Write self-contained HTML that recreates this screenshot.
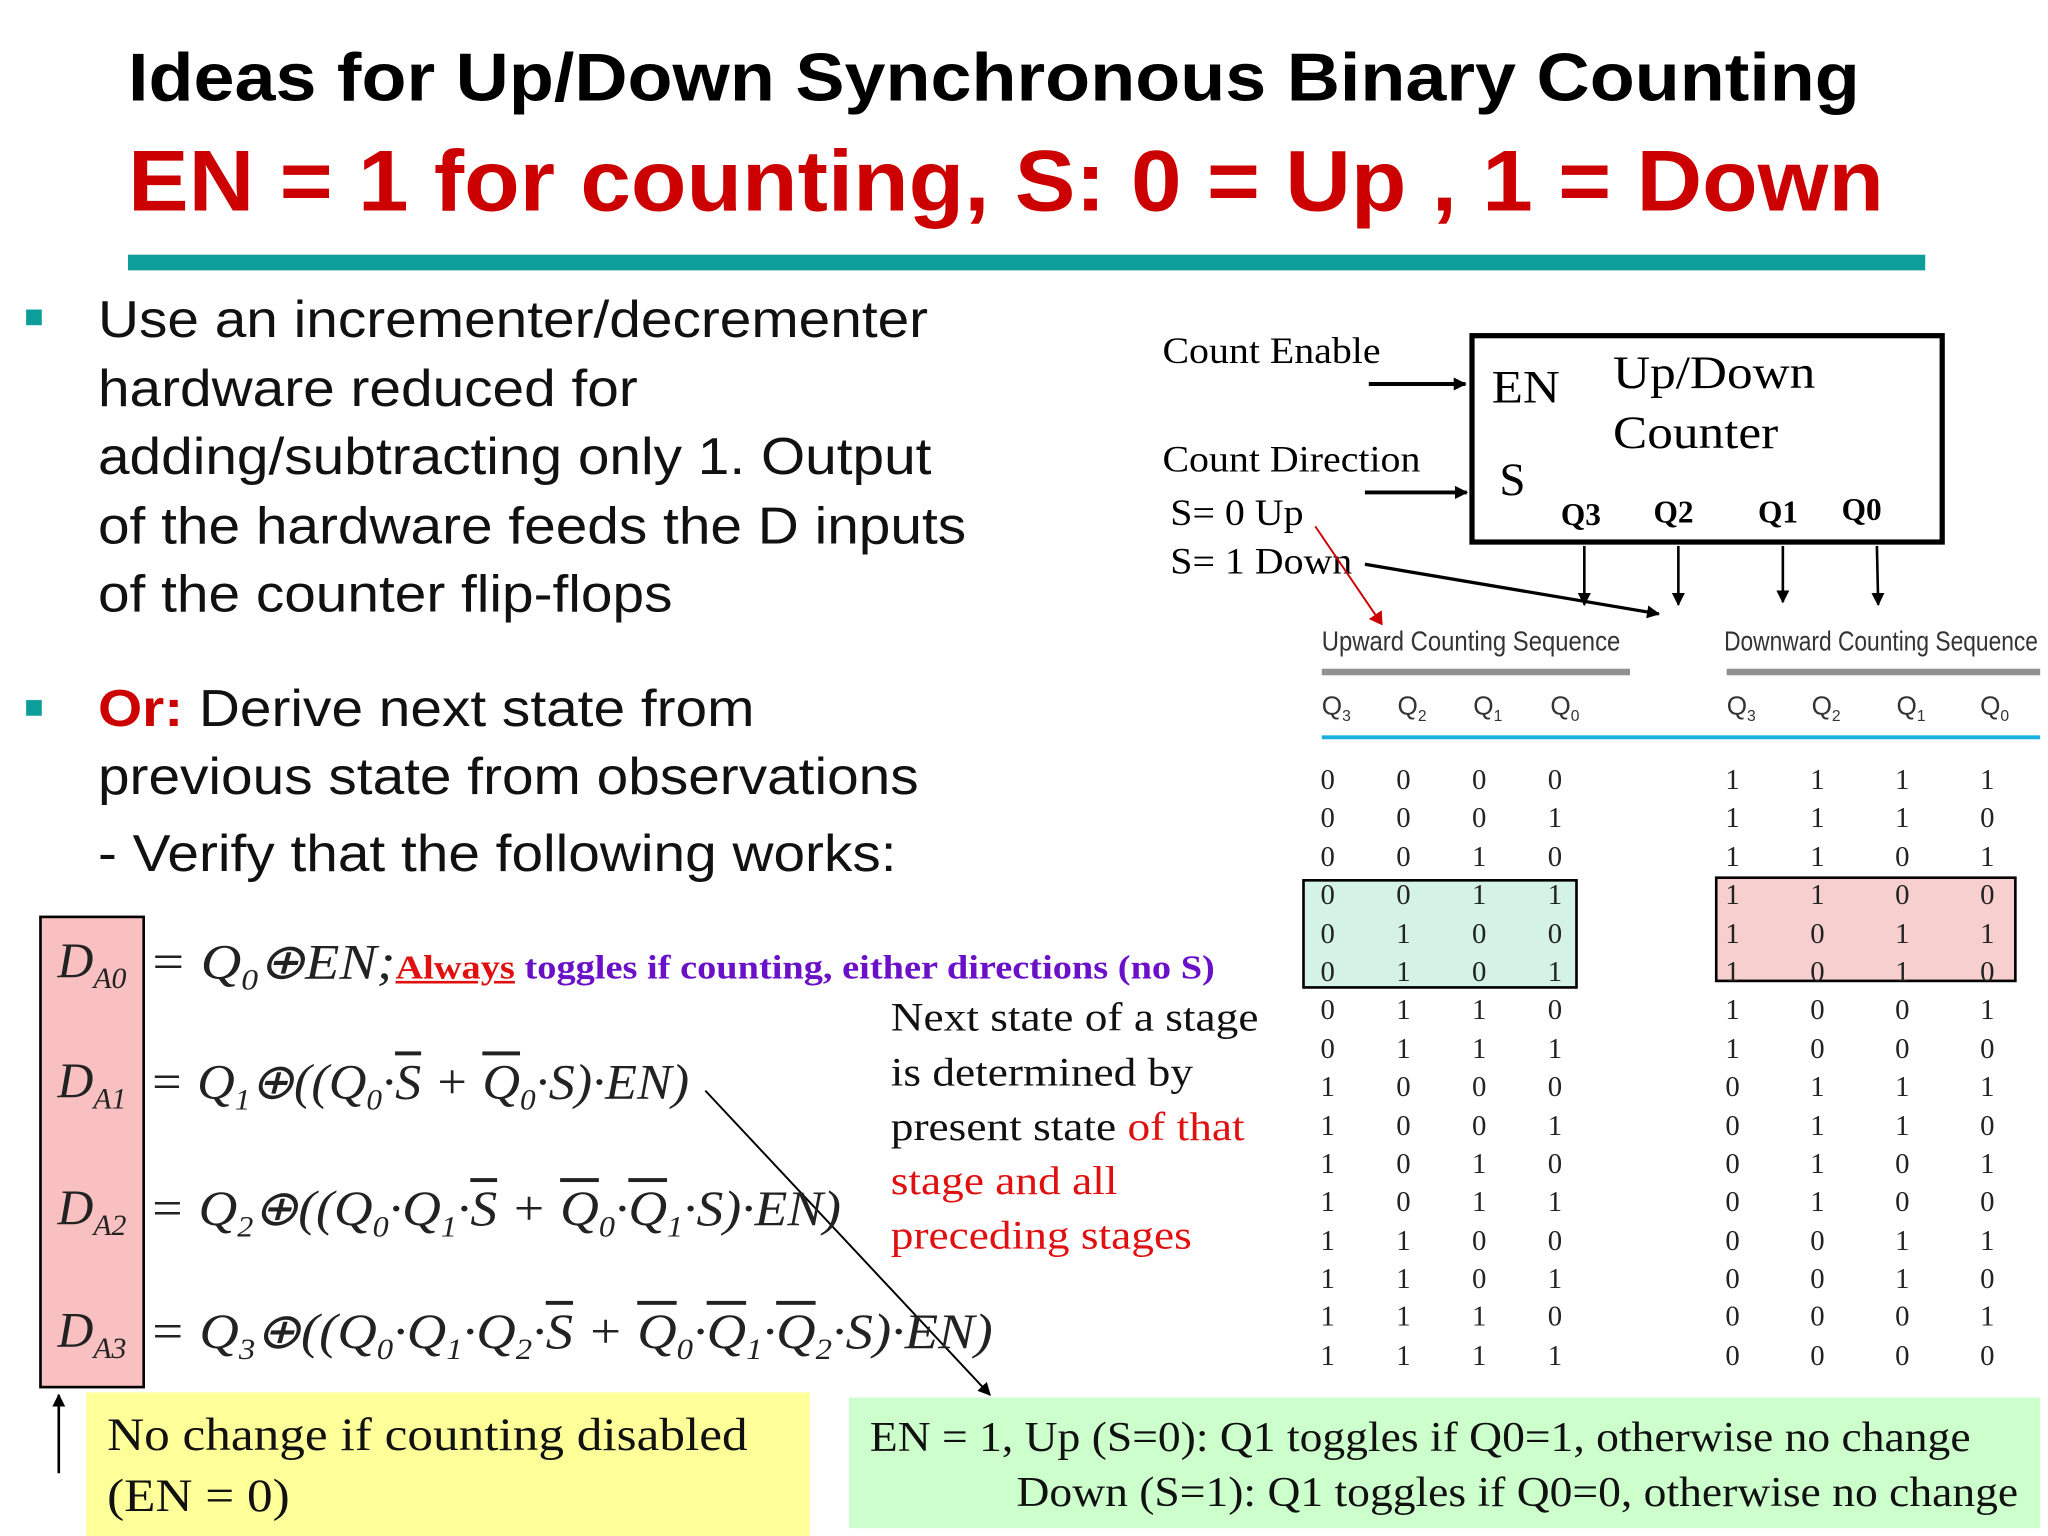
<!DOCTYPE html>
<html><head><meta charset="utf-8"><style>
html,body{margin:0;padding:0;background:#fff;width:2048px;height:1536px;overflow:hidden}
#w{position:absolute;left:0;top:0;width:1568px;height:1176px;transform:scale(1.30612);transform-origin:0 0}
.a{position:absolute;white-space:nowrap;transform-origin:0 0}
.s{font-family:"Liberation Sans",sans-serif}
.f{font-family:"Liberation Serif",serif}
.x{transform:scaleX(1.09)}
.tb{position:absolute;font-family:"Liberation Serif",serif;font-size:22px;color:#222}
.tb div{height:29.4px;line-height:29.4px;display:flex}
.up div i{font-style:normal;width:58px;display:inline-block}
.dn div i{font-style:normal;width:65px;display:inline-block}
.eq{font-family:"Liberation Serif",serif;font-style:italic;font-size:38px;color:#222}
.ov{text-decoration:overline}
sub{font-size:60%}
</style></head><body><div id="w">
<div class="a s" style="left:98px;top:30px;font-size:52px;font-weight:bold;color:#000;transform:scaleX(1.085)">Ideas for Up/Down Synchronous Binary Counting</div>
<div class="a s" style="left:98px;top:100px;font-size:66px;font-weight:bold;color:#cc0000;transform:scaleX(1.055)">EN = 1 for counting, S: 0 = Up , 1 = Down</div>
<div class="a" style="left:98px;top:195px;width:1376px;height:12px;background:#0e9e9a"></div>

<div class="a" style="left:20px;top:237px;width:12px;height:12px;background:#0e9e9a"></div>
<div class="a s" style="left:75px;top:219px;font-size:40px;line-height:52.5px;color:#111;transform:scaleX(1.087)">Use an incrementer/decrementer<br>hardware reduced for<br>adding/subtracting only 1. Output<br>of the hardware feeds the D inputs<br>of the counter flip-flops</div>
<div class="a" style="left:20px;top:536px;width:12px;height:12px;background:#0e9e9a"></div>
<div class="a s" style="left:75px;top:517px;font-size:40px;line-height:52px;color:#111;transform:scaleX(1.087)"><span style="color:#cc0000;font-weight:bold">Or:</span> Derive next state from<br>previous state from observations</div>
<div class="a s" style="left:75px;top:632px;font-size:40px;color:#111;transform:scaleX(1.087)">- Verify that the following works:</div>

<div class="a f x" style="left:890px;top:254px;font-size:28px">Count Enable</div>
<div class="a f x" style="left:890px;top:337px;font-size:28px">Count Direction</div>
<div class="a f x" style="left:896px;top:378px;font-size:28px">S= 0 Up</div>
<div class="a f x" style="left:896px;top:415px;font-size:28px">S= 1 Down</div>
<div class="a" style="left:1125px;top:255px;width:356px;height:154px;border:4px solid #000"></div>
<div class="a f x" style="left:1142px;top:275px;font-size:36px">EN</div>
<div class="a f x" style="left:1235px;top:262px;font-size:36px;line-height:46px">Up/Down<br>Counter</div>
<div class="a f" style="left:1148px;top:346px;font-size:36px">S</div>
<div class="a f" style="left:1195px;top:382px;font-size:24px;font-weight:bold">Q3</div>
<div class="a f" style="left:1266px;top:380px;font-size:24px;font-weight:bold">Q2</div>
<div class="a f" style="left:1346px;top:380px;font-size:24px;font-weight:bold">Q1</div>
<div class="a f" style="left:1410px;top:378px;font-size:24px;font-weight:bold">Q0</div>

<svg class="a" style="left:0;top:0" width="1568" height="1176">
<defs>
<marker id="m" markerWidth="10" markerHeight="10" refX="9" refY="5" orient="auto" markerUnits="userSpaceOnUse"><path d="M0,0 L10,5 L0,10z" fill="#000"/></marker>
<marker id="mr" markerWidth="10" markerHeight="12" refX="9" refY="6" orient="auto" markerUnits="userSpaceOnUse"><path d="M0,0 L10,6 L0,12z" fill="#c00"/></marker>
</defs>
<g stroke="#000" fill="none">
<line x1="1048" y1="294" x2="1122" y2="294" stroke-width="3" marker-end="url(#m)"/>
<line x1="1045" y1="377" x2="1123" y2="377" stroke-width="3" marker-end="url(#m)"/>
<line x1="1213" y1="418" x2="1213" y2="463" stroke-width="2" marker-end="url(#m)"/>
<line x1="1285" y1="418" x2="1285" y2="463" stroke-width="2" marker-end="url(#m)"/>
<line x1="1365" y1="418" x2="1365" y2="461" stroke-width="2" marker-end="url(#m)"/>
<line x1="1437" y1="418" x2="1438" y2="463" stroke-width="2" marker-end="url(#m)"/>
<line x1="1045" y1="432" x2="1270" y2="470" stroke-width="2.5" marker-end="url(#m)"/>
<line x1="540" y1="835" x2="758" y2="1068" stroke-width="1.5" marker-end="url(#m)"/>
<line x1="45" y1="1128" x2="45" y2="1068" stroke-width="2" marker-end="url(#m)"/>
</g>
<line x1="1007" y1="403" x2="1058" y2="478" stroke="#c00" stroke-width="1.5" marker-end="url(#mr)"/>
</svg>

<div class="a s" style="left:1012px;top:480px;font-size:21px;color:#333;transform:scaleX(.87)">Upward Counting Sequence</div>
<div class="a s" style="left:1320px;top:480px;font-size:21px;color:#333;transform:scaleX(.83)">Downward Counting Sequence</div>
<div class="a" style="left:1012px;top:512px;width:236px;height:5px;background:#909090"></div>
<div class="a" style="left:1322px;top:512px;width:240px;height:5px;background:#909090"></div>
<div class="a s" style="left:1012px;top:530px;font-size:20px;color:#333">
<span class="a" style="left:0">Q<sub>3</sub></span><span class="a" style="left:58px">Q<sub>2</sub></span><span class="a" style="left:116px">Q<sub>1</sub></span><span class="a" style="left:175px">Q<sub>0</sub></span>
<span class="a" style="left:310px">Q<sub>3</sub></span><span class="a" style="left:375px">Q<sub>2</sub></span><span class="a" style="left:440px">Q<sub>1</sub></span><span class="a" style="left:504px">Q<sub>0</sub></span></div>
<div class="a" style="left:1012px;top:563px;width:550px;height:3px;background:#1ab0e0"></div>

<div class="a" style="left:997px;top:673px;width:207px;height:80px;background:#d4f2e6;border:2px solid #000"></div>
<div class="a" style="left:1313px;top:671px;width:227px;height:77px;background:#f8cfcf;border:2px solid #000"></div>

<div class="tb up" style="left:1011px;top:582px">
<div><i>0</i><i>0</i><i>0</i><i>0</i></div>
<div><i>0</i><i>0</i><i>0</i><i>1</i></div>
<div><i>0</i><i>0</i><i>1</i><i>0</i></div>
<div><i>0</i><i>0</i><i>1</i><i>1</i></div>
<div><i>0</i><i>1</i><i>0</i><i>0</i></div>
<div><i>0</i><i>1</i><i>0</i><i>1</i></div>
<div><i>0</i><i>1</i><i>1</i><i>0</i></div>
<div><i>0</i><i>1</i><i>1</i><i>1</i></div>
<div><i>1</i><i>0</i><i>0</i><i>0</i></div>
<div><i>1</i><i>0</i><i>0</i><i>1</i></div>
<div><i>1</i><i>0</i><i>1</i><i>0</i></div>
<div><i>1</i><i>0</i><i>1</i><i>1</i></div>
<div><i>1</i><i>1</i><i>0</i><i>0</i></div>
<div><i>1</i><i>1</i><i>0</i><i>1</i></div>
<div><i>1</i><i>1</i><i>1</i><i>0</i></div>
<div><i>1</i><i>1</i><i>1</i><i>1</i></div>
</div>
<div class="tb dn" style="left:1321px;top:582px">
<div><i>1</i><i>1</i><i>1</i><i>1</i></div>
<div><i>1</i><i>1</i><i>1</i><i>0</i></div>
<div><i>1</i><i>1</i><i>0</i><i>1</i></div>
<div><i>1</i><i>1</i><i>0</i><i>0</i></div>
<div><i>1</i><i>0</i><i>1</i><i>1</i></div>
<div><i>1</i><i>0</i><i>1</i><i>0</i></div>
<div><i>1</i><i>0</i><i>0</i><i>1</i></div>
<div><i>1</i><i>0</i><i>0</i><i>0</i></div>
<div><i>0</i><i>1</i><i>1</i><i>1</i></div>
<div><i>0</i><i>1</i><i>1</i><i>0</i></div>
<div><i>0</i><i>1</i><i>0</i><i>1</i></div>
<div><i>0</i><i>1</i><i>0</i><i>0</i></div>
<div><i>0</i><i>0</i><i>1</i><i>1</i></div>
<div><i>0</i><i>0</i><i>1</i><i>0</i></div>
<div><i>0</i><i>0</i><i>0</i><i>1</i></div>
<div><i>0</i><i>0</i><i>0</i><i>0</i></div>
</div>

<div class="a" style="left:30px;top:701px;width:77px;height:358px;background:#f8c0c0;border:2px solid #000"></div>
<div class="a eq" style="left:44px;top:714px">D<sub>A0</sub></div>
<div class="a eq" style="left:44px;top:806px">D<sub>A1</sub></div>
<div class="a eq" style="left:44px;top:903px">D<sub>A2</sub></div>
<div class="a eq" style="left:44px;top:997px">D<sub>A3</sub></div>
<div class="a eq" style="left:114px;top:714px;transform:scaleX(1.13)">= Q<sub>0</sub>⊕EN;<span style="font-style:normal;font-weight:bold;font-size:26px;color:#e01010;text-decoration:underline">Always</span><span style="font-style:normal;font-weight:bold;font-size:26px;color:#6a10c8"> toggles if counting, either directions (no S)</span></div>
<div class="a eq" style="left:114px;top:806px;transform:scaleX(1.05)">= Q<sub>1</sub>⊕((Q<sub>0</sub>·<span class="ov">S</span> + <span class="ov">Q</span><sub>0</sub>·S)·EN)</div>
<div class="a eq" style="left:114px;top:903px;transform:scaleX(1.08)">= Q<sub>2</sub>⊕((Q<sub>0</sub>·Q<sub>1</sub>·<span class="ov">S</span> + <span class="ov">Q</span><sub>0</sub>·<span class="ov">Q</span><sub>1</sub>·S)·EN)</div>
<div class="a eq" style="left:114px;top:997px;transform:scaleX(1.10)">= Q<sub>3</sub>⊕((Q<sub>0</sub>·Q<sub>1</sub>·Q<sub>2</sub>·<span class="ov">S</span> + <span class="ov">Q</span><sub>0</sub>·<span class="ov">Q</span><sub>1</sub>·<span class="ov">Q</span><sub>2</sub>·S)·EN)</div>

<div class="a f" style="left:682px;top:758px;font-size:31px;line-height:41.8px;color:#111;transform:scaleX(1.12)">Next state of a stage<br>is determined by<br>present state <span style="color:#e01010">of that</span><br><span style="color:#e01010">stage and all<br>preceding stages</span></div>

<div class="a" style="left:66px;top:1066px;width:554px;height:110px;background:#ffff99"></div>
<div class="a f x" style="left:82px;top:1075px;font-size:36px;line-height:47px;color:#111">No change if counting disabled<br>(EN = 0)</div>
<div class="a" style="left:650px;top:1070px;width:912px;height:100px;background:#ccffcc"></div>
<div class="a f x" style="left:666px;top:1079px;font-size:32px;line-height:42px;color:#111">EN = 1, Up (S=0): Q1 toggles if Q0=1, otherwise no change<br><span style="padding-left:103px">Down (S=1): Q1 toggles if Q0=0, otherwise no change</span></div>
</div></body></html>
